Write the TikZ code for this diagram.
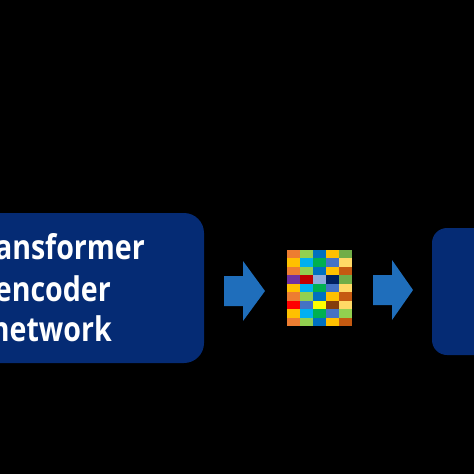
\documentclass[tikz,border=0pt]{standalone}
\usepackage{fontspec}
\setmainfont{Open Sans}
\definecolor{boxnavy}{HTML}{052B74}
\definecolor{arrowblue}{HTML}{1F6EBB}
\definecolor{cOr}{HTML}{ED7D31}
\definecolor{cLg}{HTML}{92D050}
\definecolor{cBl}{HTML}{0070C0}
\definecolor{cGo}{HTML}{FFC000}
\definecolor{cGr}{HTML}{70AD47}
\definecolor{cLb}{HTML}{00B0F0}
\definecolor{cGn}{HTML}{00B050}
\definecolor{cMb}{HTML}{4472C4}
\definecolor{cLy}{HTML}{FFD966}
\definecolor{cDo}{HTML}{C55A11}
\definecolor{cPu}{HTML}{7030A0}
\definecolor{cRd}{HTML}{C00000}
\definecolor{cGb}{HTML}{8FAADC}
\definecolor{cNv}{HTML}{002060}
\definecolor{cRe}{HTML}{FF0000}
\definecolor{cYe}{HTML}{FFFF00}
\definecolor{cBr}{HTML}{843C0C}
\newcommand{\narrowtxt}[1]{\scalebox{0.84}[1]{#1}}
\tikzset{
  panel/.style={fill=boxnavy, draw=none, rounded corners=20pt},
  bigarrow/.style={fill=arrowblue, draw=none},
  lbl/.style={text=white, font=\fontsize{34}{42}\selectfont\bfseries, inner sep=0pt, anchor=base east}
}
\begin{document}
\begin{tikzpicture}[x=1pt,y=-1pt]
\fill[black] (0,0) rectangle (474,474);
\useasboundingbox (0,0) rectangle (474,474);
% left panel
\fill[panel] (-150,213) rectangle (204,363);
\node[lbl] (t1) at (145,259) {\narrowtxt{Transformer}};
\node[lbl] (t2) at (111,301.5) {\narrowtxt{encoder}};
\node[lbl] (t3) at (112,341.5) {\narrowtxt{network}};
% right panel
\fill[panel, rounded corners=15pt] (432,228) rectangle (520,355);
% arrows
\fill[bigarrow] (224,276) -- (243,276) -- (243,261) -- (265,291) -- (243,321) -- (243,306) -- (224,306) -- cycle;
\fill[bigarrow] (373,275) -- (392,275) -- (392,260) -- (413,290) -- (392,320) -- (392,305) -- (373,305) -- cycle;
% grid
\def\gx{287}\def\gy{249.5}\def\cw{13}\def\rh{8.5}
\foreach \row [count=\r from 0] in {
 {cOr,cLg,cBl,cGo,cGr},
 {cGo,cLb,cGn,cMb,cLy},
 {cOr,cLg,cBl,cGo,cDo},
 {cPu,cRd,cGb,cNv,cGr},
 {cGo,cLb,cGn,cMb,cLy},
 {cOr,cLg,cBl,cGo,cDo},
 {cRe,cMb,cYe,cBr,cLy},
 {cGo,cLb,cGn,cMb,cLg},
 {cOr,cLg,cBl,cGo,cDo}}{
  \foreach \c [count=\k from 0] in \row {
    \fill[\c] ({\gx+\k*\cw},{\gy+\r*\rh}) rectangle ({\gx+(\k+1)*\cw},{\gy+(\r+1)*\rh});
  }
}
\end{tikzpicture}
\end{document}
